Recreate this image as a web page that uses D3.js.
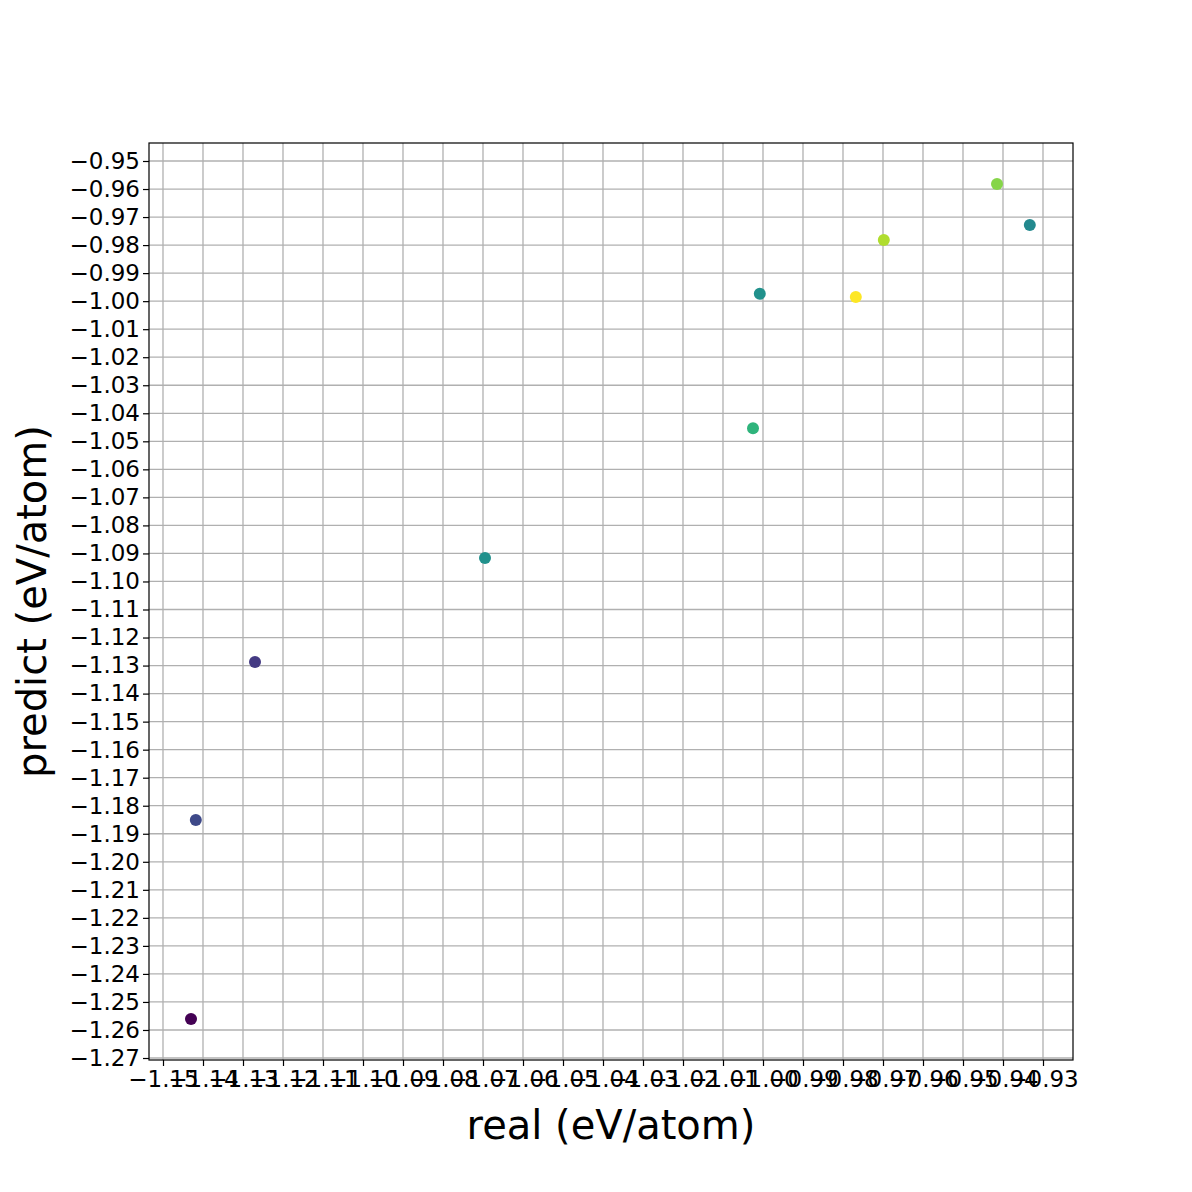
<!DOCTYPE html>
<html><head><meta charset="utf-8">
<script src="https://cdn.jsdelivr.net/npm/d3@7"></script>
<style>body{margin:0;background:#fff}text{font-family:"DejaVu Sans",sans-serif}</style>
</head><body>
<script>
const realVals=[-1.1430,-1.1418,-1.1270,-1.0695,-1.0025,-1.0008,-0.9768,-0.9698,-0.9415,-0.9333];
const predVals=[-1.2561,-1.1851,-1.1287,-1.0916,-1.0453,-0.9974,-0.9985,-0.9782,-0.9582,-0.9728];
const colorVals=[0.0,0.22,0.17,0.5,0.65,0.5,1.0,0.88,0.82,0.47];
const xTicks=d3.range(-115,-92).map(v=>v/100);
const yTicks=d3.range(-127,-94).map(v=>v/100);

const W=1192,H=1192,L=149,R=1073,T=143,B=1060;
const svg=d3.select("body").append("svg").attr("width",W).attr("height",H);
const x=d3.scaleLinear().domain([-1.1535,-0.9225]).range([L,R]);
const y=d3.scaleLinear().domain([-1.27071,-0.94358]).range([B,T]);
const fmt=d=>d3.format(".2f")(d).replace("-","\u2212");

const g=svg.append("g");
g.selectAll(".gx").data(xTicks).join("line").attr("x1",d=>x(d)).attr("x2",d=>x(d)).attr("y1",T).attr("y2",B).attr("stroke","#b0b0b0").attr("stroke-width",1.3);
g.selectAll(".gy").data(yTicks).join("line").attr("y1",d=>y(d)).attr("y2",d=>y(d)).attr("x1",L).attr("x2",R).attr("stroke","#b0b0b0").attr("stroke-width",1.3);

svg.selectAll("circle").data(realVals).join("circle").attr("cx",d=>x(d)).attr("cy",(d,i)=>y(predVals[i])).attr("r",6).attr("fill",(d,i)=>d3.interpolateViridis(colorVals[i]));

const ax=svg.append("g").attr("transform",`translate(0,${B})`).call(d3.axisBottom(x).tickValues(xTicks).tickFormat(fmt).tickSize(6).tickSizeOuter(0));
const ay=svg.append("g").attr("transform",`translate(${L},0)`).call(d3.axisLeft(y).tickValues(yTicks).tickFormat(fmt).tickSize(6).tickSizeOuter(0));
[ax,ay].forEach(a=>{a.select(".domain").remove();a.selectAll("text").attr("font-size",23).attr("font-family","DejaVu Sans").attr("fill","#000");a.selectAll("line").attr("stroke","#000").attr("stroke-width",1.2);});
ax.selectAll("text").attr("dy","0.8em");
ay.selectAll("text").attr("x",-9);
svg.append("rect").attr("x",L).attr("y",T).attr("width",R-L).attr("height",B-T).attr("fill","none").attr("stroke","#000").attr("stroke-width",1.2);

svg.append("text").attr("x",(L+R)/2).attr("y",1139).attr("text-anchor","middle").attr("font-size",40).text("real (eV/atom)");
svg.append("text").attr("transform",`translate(46,${(T+B)/2}) rotate(-90)`).attr("text-anchor","middle").attr("font-size",40).text("predict (eV/atom)");
</script>
</body></html>
